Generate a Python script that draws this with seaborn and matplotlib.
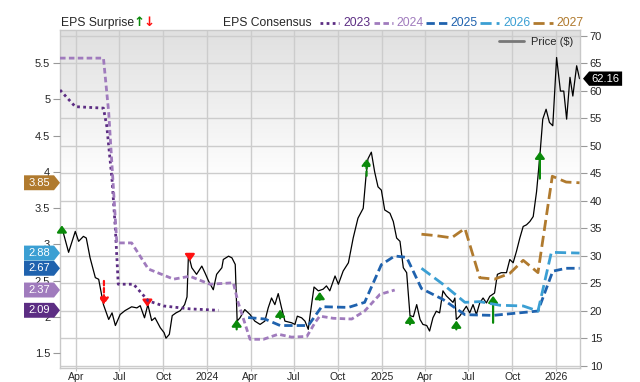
import matplotlib
matplotlib.use("Agg")
import matplotlib.pyplot as plt
import matplotlib.dates as mdates
from matplotlib.lines import Line2D
from matplotlib.patches import Polygon
from matplotlib.colors import LinearSegmentedColormap
from matplotlib.ticker import MultipleLocator, FuncFormatter
import numpy as np
import pandas as pd
import seaborn as sns

# Preço da ação (linha preta)
price_dates = [
    "2023-03-03", "2023-03-17", "2023-03-31", "2023-04-07", "2023-04-17", "2023-04-23", "2023-05-01", "2023-05-12", "2023-05-19", "2023-05-29",
    "2023-06-09", "2023-06-16", "2023-06-23", "2023-07-03", "2023-07-13", "2023-07-27", "2023-08-07", "2023-08-14", "2023-08-23", "2023-08-30",
    "2023-09-07", "2023-09-14", "2023-09-25", "2023-10-03", "2023-10-07", "2023-10-14", "2023-10-20", "2023-10-28", "2023-11-06", "2023-11-15",
    "2023-11-20", "2023-11-23", "2023-11-30", "2023-12-10", "2023-12-21", "2023-12-28", "2024-01-04", "2024-01-14", "2024-01-21", "2024-02-01",
    "2024-02-04", "2024-02-15", "2024-02-22", "2024-02-29", "2024-03-04", "2024-03-10", "2024-03-20", "2024-03-31", "2024-04-10", "2024-04-21",
    "2024-05-01", "2024-05-08", "2024-05-15", "2024-05-22", "2024-05-29", "2024-06-05", "2024-06-12", "2024-06-26", "2024-07-03", "2024-07-08",
    "2024-07-17", "2024-07-24", "2024-07-31", "2024-08-03", "2024-08-12", "2024-08-21", "2024-08-31", "2024-09-07", "2024-09-14", "2024-09-25",
    "2024-10-02", "2024-10-12", "2024-10-23", "2024-11-02", "2024-11-12", "2024-11-23", "2024-11-29", "2024-12-03", "2024-12-10", "2024-12-17",
    "2024-12-24", "2024-12-31", "2025-01-07", "2025-01-18", "2025-01-25", "2025-02-01", "2025-02-08", "2025-02-15", "2025-02-22", "2025-03-01",
    "2025-03-08", "2025-03-15", "2025-03-22", "2025-03-28", "2025-04-05", "2025-04-11", "2025-04-18", "2025-04-25", "2025-05-02", "2025-05-09",
    "2025-05-16", "2025-05-23", "2025-05-30", "2025-06-03", "2025-06-06", "2025-06-13", "2025-06-20", "2025-06-27", "2025-07-04", "2025-07-11",
    "2025-07-18", "2025-07-25", "2025-08-01", "2025-08-08", "2025-08-15", "2025-08-25", "2025-08-31", "2025-09-08", "2025-09-19", "2025-09-26",
    "2025-10-03", "2025-10-10", "2025-10-17", "2025-10-24", "2025-10-31", "2025-11-07", "2025-11-14", "2025-11-21", "2025-11-28", "2025-12-04",
    "2025-12-11", "2025-12-18", "2025-12-25", "2026-01-02", "2026-01-10", "2026-01-17", "2026-01-23", "2026-01-30", "2026-02-05", "2026-02-13",
    "2026-02-19",
]
price_values = [
    35.1, 30.6, 34.4, 32.6, 33.5, 33.2, 29.6, 26.0, 25.7, 21.1,
    18.4, 19.6, 17.3, 19.3, 20.0, 20.7, 20.5, 20.9, 18.7, 21.1,
    18.2, 18.7, 16.9, 16.0, 15.0, 15.7, 19.1, 19.6, 20.0, 21.1,
    22.5, 30.2, 27.8, 26.6, 28.1, 26.8, 25.4, 23.8, 26.6, 27.8,
    29.3, 29.9, 29.6, 28.4, 18.1, 18.7, 20.2, 19.3, 18.1, 17.5,
    18.1, 20.5, 22.3, 21.1, 23.1, 20.5, 18.1, 17.8, 17.5, 19.0,
    18.7, 18.1, 16.6, 18.7, 24.3, 23.6, 23.9, 24.5, 23.6, 26.3,
    24.8, 27.2, 28.7, 33.2, 36.8, 38.6, 44.6, 47.6, 48.8, 45.2,
    42.5, 41.9, 38.3, 37.7, 36.2, 33.2, 32.6, 27.8, 26.9, 19.1,
    18.9, 21.1, 18.4, 17.5, 17.3, 16.3, 18.7, 19.9, 19.6, 23.6,
    22.7, 22.1, 21.5, 22.3, 18.4, 19.0, 19.9, 20.8, 19.6, 21.1,
    19.3, 21.4, 22.3, 21.4, 22.6, 23.2, 26.6, 26.9, 26.9, 29.3,
    28.7, 30.8, 33.2, 35.3, 35.6, 36.2, 37.1, 41.6, 48.2, 54.8,
    56.6, 54.2, 53.6, 66.0, 59.9, 59.9, 54.8, 62.4, 59.0, 64.5,
    62.16,
]

# Consenso de EPS por ano fiscal
eps_2023_dates = ["2023-02-27", "2023-03-31", "2023-05-29", "2023-06-05", "2023-06-16", "2023-06-23", "2023-06-29",
                  "2023-07-31", "2023-08-31", "2023-10-02", "2023-11-26", "2024-01-25"]
eps_2023 = [5.13, 4.90, 4.88, 4.63, 3.89, 3.21, 2.45, 2.45, 2.22, 2.15, 2.11, 2.09]

eps_2024_dates = ["2023-02-27", "2023-05-29", "2023-06-09", "2023-06-26", "2023-07-27", "2023-08-31", "2023-10-23",
                  "2023-11-26", "2024-01-07", "2024-02-25", "2024-03-06", "2024-03-31", "2024-04-28", "2024-05-29",
                  "2024-06-26", "2024-07-28", "2024-08-14", "2024-08-24", "2024-09-21", "2024-10-30", "2024-11-26",
                  "2024-12-28", "2025-01-28"]
eps_2024 = [5.57, 5.57, 4.82, 3.02, 3.02, 2.66, 2.52, 2.56, 2.45, 2.47, 2.20, 1.69, 1.69, 1.76,
            1.72, 1.73, 1.92, 2.01, 1.98, 1.97, 2.08, 2.31, 2.37]

eps_2025_dates = ["2024-03-27", "2024-05-01", "2024-06-02", "2024-07-31", "2024-08-28", "2024-10-23", "2024-11-26",
                  "2024-12-31", "2025-01-28", "2025-02-22", "2025-03-25", "2025-05-09", "2025-06-24", "2025-08-22",
                  "2025-11-24", "2025-12-25", "2026-01-22", "2026-02-19"]
eps_2025 = [1.99, 1.97, 1.88, 1.88, 2.14, 2.13, 2.20, 2.72, 2.84, 2.82, 2.39, 2.24, 2.03, 2.02,
            2.08, 2.63, 2.67, 2.67]

eps_2026_dates = ["2025-03-25", "2025-05-09", "2025-06-24", "2025-07-25", "2025-09-05", "2025-10-24", "2025-11-24",
                  "2025-12-22", "2026-02-19"]
eps_2026 = [2.67, 2.45, 2.20, 2.21, 2.16, 2.15, 2.08, 2.89, 2.88]

eps_2027_dates = ["2025-03-25", "2025-04-25", "2025-05-27", "2025-06-24", "2025-07-25", "2025-08-25", "2025-09-26",
                  "2025-10-24", "2025-11-24", "2025-12-24", "2026-01-22", "2026-02-19"]
eps_2027 = [3.14, 3.12, 3.09, 3.22, 2.54, 2.52, 2.60, 2.78, 2.61, 3.94, 3.86, 3.85]

# Surpresas de EPS (seta do preço antes -> depois)
surprise_dates = ["2023-03-03", "2023-05-30", "2023-08-29", "2023-11-26", "2024-03-03", "2024-06-02",
                  "2024-08-24", "2024-11-30", "2025-03-01", "2025-06-06", "2025-08-22", "2025-11-28"]
surprise_from = [34.3, 25.4, 22.0, 30.3, 16.6, 18.6, 22.0, 44.5, 17.5, 16.6, 17.8, 44.0]
surprise_to = [35.5, 21.1, 20.7, 29.0, 18.4, 20.2, 23.4, 47.6, 19.1, 18.2, 22.7, 48.9]

years = ["2023", "2024", "2025", "2026", "2027"]

# Estilos
COLORS = {"2023": "#5c2d83", "2024": "#a07bbd", "2025": "#1f62ae", "2026": "#3b9fd3", "2027": "#b07a2e"}
STYLES = {"2023": (0, (1, 1.2)), "2024": (0, (2, 1.2)), "2025": (0, (3, 1.5)),
          "2026": (0, (4, 1.8)), "2027": (0, (4, 1.8))}
GREEN = "#0a8a0a"
RED = "#ff1010"
DASHED_SURPRISES = {1, 7}
GRID = "#cccccc"

sns.set_theme(style="white")
plt.rcParams["font.family"] = ["Liberation Sans", "DejaVu Sans"]

fig = plt.figure(figsize=(6.4, 3.82), dpi=100)
W, H = 640, 382
rect = [60 / W, 14 / H, 520 / W, 338 / H]

# fundo em degradê
bg = fig.add_axes(rect, zorder=0)
cmap_bg = LinearSegmentedColormap.from_list("bg", [(0, "#e0e0e0"), (0.45, "#ffffff"), (1, "#ffffff")])
bg.imshow(np.linspace(0, 1, 256).reshape(-1, 1), aspect="auto", cmap=cmap_bg, extent=[0, 1, 0, 1])
bg.set_axis_off()

ax = fig.add_axes(rect, zorder=1)
ax.patch.set_visible(False)
ax2 = ax.twinx()
ax2.set_zorder(2)
ax2.patch.set_visible(False)

# preço
sns.lineplot(x=pd.to_datetime(price_dates), y=price_values, ax=ax, color="black", lw=0.9, estimator=None)

# consenso
eps_series = {
    "2023": (eps_2023_dates, eps_2023),
    "2024": (eps_2024_dates, eps_2024),
    "2025": (eps_2025_dates, eps_2025),
    "2026": (eps_2026_dates, eps_2026),
    "2027": (eps_2027_dates, eps_2027),
}
for yr in years:
    d, v = eps_series[yr]
    sns.lineplot(x=pd.to_datetime(d), y=v, ax=ax2, color=COLORS[yr], linestyle=STYLES[yr],
                 lw=2, estimator=None)

# setas de surpresa
for i, (d, a, b) in enumerate(zip(surprise_dates, surprise_from, surprise_to)):
    x = mdates.date2num(pd.Timestamp(d))
    c = GREEN if b > a else RED
    ls = (0, (2, 1.2)) if i in DASHED_SURPRISES else "-"
    ax.annotate("", xy=(x, b), xytext=(x, a),
                arrowprops=dict(arrowstyle="-|>,head_length=0.55,head_width=0.4", color=c, lw=1.6,
                                linestyle=ls, shrinkA=0, shrinkB=0, mutation_scale=7),
                zorder=4)

# eixos
ax.set_xlim(pd.Timestamp("2023-02-27"), pd.Timestamp("2026-02-20"))
ax.set_ylim(9.58, 71.0)
ax2.set_ylim(1.294, 5.958)
ax.set_xlabel("")
ax.set_ylabel("")
ax2.set_ylabel("")

ax.yaxis.tick_right()
ax.set_yticks(range(10, 71, 5))
ax2.yaxis.tick_left()
ax2.yaxis.set_major_locator(MultipleLocator(0.5))
ax2.yaxis.set_major_formatter(FuncFormatter(lambda v, _: f"{v:g}"))

ax.xaxis.set_major_locator(mdates.MonthLocator(bymonth=[1, 4, 7, 10]))


def month_fmt(v, _):
    dt = mdates.num2date(v)
    return dt.strftime("%Y") if dt.month == 1 else dt.strftime("%b")


ax.xaxis.set_major_formatter(FuncFormatter(month_fmt))

ax.grid(True, color=GRID, lw=1)
ax2.grid(False)
ax.tick_params(axis="y", right=True, left=False, labelright=True, labelleft=False,
               length=5, width=0.8, color="#999999", labelsize=8, pad=2)
ax.tick_params(axis="x", bottom=True, length=2, width=0.8, color="#bbbbbb", labelsize=7.6, pad=1)
ax2.tick_params(axis="y", left=True, right=False, labelleft=True, labelright=False,
                length=5, width=0.8, color="#999999", labelsize=8, pad=2)
for s in ax.spines.values():
    s.set_color("#c8c8c8")
    s.set_linewidth(1)
for s in ax2.spines.values():
    s.set_visible(False)

# etiquetas dos últimos valores de consenso
ytr = ax2.get_yaxis_transform()
hh = 0.103
for yr in years:
    v = eps_series[yr][1][-1]
    poly = Polygon([(-0.0692, v - hh), (-0.0115, v - hh), (0, v), (-0.0115, v + hh), (-0.0692, v + hh)],
                   closed=True, transform=ytr, facecolor=COLORS[yr], edgecolor="none",
                   clip_on=False, zorder=6)
    ax2.add_patch(poly)
    ax2.text(-0.040, v, f"{v:.2f}", transform=ytr, color="white", fontsize=8,
             ha="center", va="center", zorder=7, clip_on=False)

# etiqueta do último preço
ptr = ax.get_yaxis_transform()
p = price_values[-1]
ph = 1.3
ax.add_patch(Polygon([(1.0058, p), (1.0175, p + ph), (1.081, p + ph), (1.081, p - ph), (1.0175, p - ph)],
                     closed=True, transform=ptr, facecolor="black", edgecolor="none",
                     clip_on=False, zorder=6))
ax.text(1.049, p, f"{p:.2f}", transform=ptr, color="white", fontsize=8, ha="center", va="center",
        zorder=7, clip_on=False)

# legenda do preço
ax.legend(handles=[Line2D([], [], color="#777777", lw=2)], labels=["Price ($)"], loc="upper right",
          frameon=False, fontsize=8, handlelength=2.2, handletextpad=0.6, borderaxespad=0.25)

# cabeçalho
ty = 1 - 23 / H
fig.text(61 / W, ty, "EPS Surprise", fontsize=8.7, ha="left", va="center")
fig.text(139 / W, ty, "\u2191", fontsize=9.5, color=GREEN, ha="center", va="center", fontweight="bold",
         family=["DejaVu Sans"])
fig.text(149 / W, ty, "\u2193", fontsize=9.5, color=RED, ha="center", va="center", fontweight="bold",
         family=["DejaVu Sans"])
fig.text(223 / W, ty, "EPS Consensus", fontsize=8.7, ha="left", va="center")
legend_pos = {"2023": (320, 339, 343), "2024": (374, 393, 396), "2025": (426, 447, 450),
              "2026": (480, 499, 503), "2027": (533, 553, 556)}
for yr in years:
    x0, x1, xt = legend_pos[yr]
    fig.add_artist(Line2D([x0 / W, x1 / W], [ty, ty], transform=fig.transFigure, color=COLORS[yr],
                          linestyle=STYLES[yr], lw=2))
    fig.text(xt / W, ty, yr, fontsize=8.7, color=COLORS[yr], ha="left", va="center")

plt.savefig("out.png", dpi=100)
